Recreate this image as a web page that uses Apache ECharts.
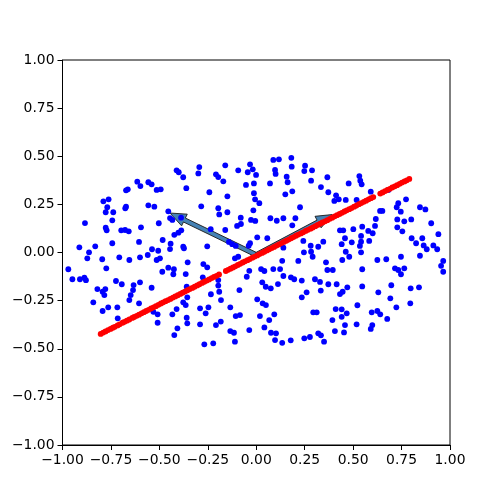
<!DOCTYPE html>
<html>
<head>
<meta charset="utf-8">
<script src="https://cdn.jsdelivr.net/npm/echarts@6/dist/echarts.min.js"></script>
<style>html,body{margin:0;padding:0;background:#fff}#c{width:500px;height:500px}</style>
</head>
<body>
<div id="c"></div>
<script>
// Original data points (blue), [x, y]
var bluePoints = [
[-0.614,0.368],[-0.598,0.345],[-0.557,0.365],[-0.540,0.354],[-0.514,0.325],[-0.672,0.323],[-0.663,0.328],[-0.789,0.266],[-0.762,0.276],[-0.769,0.235],
[-0.777,0.209],[-0.738,0.209],[-0.672,0.238],[-0.676,0.230],[-0.557,0.245],[-0.526,0.238],[-0.743,0.167],[-0.884,0.153],[-0.777,0.129],[-0.772,0.115],
[-0.697,0.115],[-0.677,0.117],[-0.658,0.110],[-0.595,0.131],[-0.503,0.152],[-0.743,0.048],[-0.605,0.055],[-0.913,0.027],[-0.831,0.032],[-0.538,0.017],
[-0.294,0.444],[-0.299,0.411],[-0.160,0.453],[-0.032,0.458],[-0.093,0.427],[-0.044,0.417],[-0.018,0.432],[-0.411,0.427],[-0.400,0.417],[-0.377,0.391],
[-0.208,0.406],[-0.196,0.392],[-0.170,0.370],[-0.053,0.351],[-0.012,0.359],[-0.493,0.328],[-0.361,0.334],[-0.242,0.313],[-0.149,0.292],[-0.012,0.308],
[-0.284,0.240],[-0.196,0.230],[-0.191,0.198],[-0.149,0.209],[-0.454,0.214],[-0.445,0.179],[-0.433,0.169],[-0.388,0.181],[-0.080,0.181],[-0.027,0.169],
[-0.099,0.138],[-0.079,0.148],[-0.160,0.117],[-0.235,0.121],[-0.387,0.115],[-0.402,0.103],[-0.423,0.092],[-0.483,0.065],[-0.442,0.046],[-0.377,0.030],
[-0.253,0.032],[-0.141,0.055],[-0.124,0.043],[-0.106,0.034],[-0.039,0.035],[-0.445,0.018],[-0.001,0.403],[-0.006,0.276],[0.016,0.256],[-0.015,0.219],
[-0.005,0.164],[0.088,0.481],[0.117,0.484],[0.181,0.492],[0.183,0.446],[0.097,0.429],[0.100,0.408],[0.157,0.394],[0.162,0.365],[0.071,0.359],
[0.252,0.451],[0.248,0.423],[0.288,0.427],[0.283,0.373],[0.367,0.391],[0.477,0.359],[0.334,0.340],[0.372,0.313],[0.412,0.297],[0.426,0.276],
[0.403,0.268],[0.462,0.273],[0.150,0.302],[0.186,0.318],[0.226,0.235],[0.073,0.178],[0.106,0.165],[0.140,0.178],[0.202,0.178],[0.186,0.141],
[0.432,0.115],[0.449,0.115],[0.458,0.074],[0.005,0.079],[0.057,0.074],[0.243,0.060],[0.281,0.035],[0.320,0.030],[0.346,0.056],[0.441,0.043],
[0.140,0.025],[-0.032,0.048],[0.532,0.397],[0.537,0.373],[0.544,0.354],[0.591,0.316],[0.518,0.273],[0.639,0.216],[0.651,0.216],[0.682,0.325],
[0.773,0.276],[0.733,0.256],[0.725,0.235],[0.746,0.212],[0.845,0.235],[0.873,0.224],[0.617,0.174],[0.613,0.138],[0.728,0.172],[0.764,0.162],
[0.800,0.172],[0.728,0.131],[0.754,0.110],[0.903,0.152],[0.547,0.134],[0.501,0.121],[0.578,0.112],[0.601,0.100],[0.940,0.095],[0.541,0.086],
[0.541,0.056],[0.535,0.034],[0.583,0.060],[0.493,0.053],[0.802,0.074],[0.825,0.048],[0.857,0.074],[0.864,0.037],[0.880,0.017],[0.914,0.037],
[0.934,0.017],[-0.863,0.001],[-0.872,-0.030],[-0.795,-0.035],[-0.707,-0.025],[-0.655,-0.039],[-0.600,-0.025],[-0.560,-0.013],[-0.514,-0.039],[-0.497,-0.030],
[-0.970,-0.087],[-0.774,-0.082],[-0.949,-0.139],[-0.910,-0.139],[-0.887,-0.131],[-0.879,-0.144],[-0.724,-0.148],[-0.694,-0.165],[-0.600,-0.155],[-0.633,-0.169],
[-0.636,-0.195],[-0.540,-0.183],[-0.820,-0.190],[-0.793,-0.204],[-0.779,-0.190],[-0.784,-0.221],[-0.648,-0.221],[-0.655,-0.247],[-0.841,-0.259],[-0.605,-0.264],
[-0.793,-0.304],[-0.764,-0.285],[-0.717,-0.285],[-0.715,-0.342],[-0.531,-0.308],[-0.509,-0.321],[-0.509,-0.365],[-0.506,0.009],[-0.373,0.022],[-0.354,-0.051],
[-0.273,-0.060],[-0.253,-0.077],[-0.110,-0.030],[-0.093,-0.022],[-0.036,-0.095],[-0.049,-0.126],[-0.485,-0.100],[-0.454,-0.079],[-0.425,-0.087],[-0.428,-0.113],
[-0.364,-0.112],[-0.276,-0.129],[-0.359,-0.178],[-0.196,-0.143],[-0.196,-0.172],[-0.191,-0.204],[-0.087,-0.195],[-0.234,-0.217],[-0.182,-0.247],[-0.356,-0.233],
[-0.377,-0.259],[-0.364,-0.273],[-0.411,-0.294],[-0.433,-0.321],[-0.290,-0.290],[-0.247,-0.285],[-0.261,-0.316],[-0.134,-0.285],[-0.106,-0.330],[-0.084,-0.325],
[-0.359,-0.339],[-0.356,-0.368],[-0.290,-0.373],[-0.407,-0.394],[-0.183,-0.359],[-0.208,-0.377],[-0.134,-0.408],[-0.115,-0.417],[-0.036,-0.403],[-0.423,-0.429],
[-0.268,-0.477],[-0.222,-0.472],[-0.110,-0.463],[0.246,0.001],[0.283,0.004],[0.291,-0.022],[0.462,0.004],[0.444,-0.039],[0.134,-0.043],[0.217,-0.044],
[0.360,-0.051],[0.025,-0.086],[0.042,-0.096],[0.088,-0.086],[0.123,-0.086],[0.140,-0.122],[0.179,-0.129],[0.196,-0.139],[0.235,-0.146],[0.303,-0.139],
[0.329,-0.153],[0.395,-0.091],[0.367,-0.091],[0.372,-0.165],[0.415,-0.165],[0.470,-0.181],[0.446,-0.204],[0.432,-0.216],[0.031,-0.155],[0.049,-0.178],
[0.075,-0.186],[0.112,-0.164],[0.260,-0.207],[0.235,-0.233],[0.333,-0.198],[0.005,-0.243],[0.033,-0.264],[0.050,-0.273],[0.294,-0.311],[0.312,-0.311],
[0.410,-0.294],[0.441,-0.295],[0.467,-0.316],[0.441,-0.334],[0.393,-0.351],[0.019,-0.330],[0.093,-0.321],[0.067,-0.351],[0.042,-0.389],[0.458,-0.377],
[0.406,-0.408],[0.453,-0.415],[0.076,-0.417],[0.102,-0.420],[0.097,-0.455],[0.134,-0.469],[0.178,-0.456],[0.248,-0.446],[0.277,-0.439],[0.320,-0.420],
[0.334,-0.430],[0.350,-0.463],[0.541,0.001],[0.480,-0.022],[0.625,-0.039],[0.671,-0.035],[0.747,-0.022],[0.845,-0.017],[0.965,-0.044],[0.954,-0.069],
[0.965,-0.100],[0.547,-0.087],[0.716,-0.082],[0.733,-0.091],[0.764,-0.082],[0.747,-0.113],[0.547,-0.176],[0.697,-0.170],[0.797,-0.186],[0.840,-0.181],
[0.630,-0.207],[0.692,-0.238],[0.723,-0.285],[0.795,-0.264],[0.522,-0.274],[0.596,-0.311],[0.625,-0.304],[0.640,-0.321],[0.676,-0.345],[0.518,-0.373],
[0.599,-0.377],[0.591,-0.397]
];

// Projected points (red), [x, y]
var redPoints = [
[-0.803,-0.423],[-0.790,-0.416],[-0.778,-0.410],[-0.765,-0.403],[-0.752,-0.397],[-0.740,-0.391],[-0.730,-0.386],[-0.716,-0.379],[-0.705,-0.373],[-0.690,-0.365],
[-0.680,-0.360],[-0.668,-0.354],[-0.655,-0.348],[-0.640,-0.340],[-0.630,-0.335],[-0.617,-0.329],[-0.605,-0.323],[-0.592,-0.316],[-0.580,-0.310],[-0.568,-0.304],
[-0.556,-0.298],[-0.543,-0.291],[-0.530,-0.285],[-0.518,-0.279],[-0.505,-0.272],[-0.492,-0.265],[-0.480,-0.259],[-0.468,-0.253],[-0.455,-0.247],[-0.443,-0.241],
[-0.430,-0.234],[-0.418,-0.228],[-0.405,-0.222],[-0.392,-0.215],[-0.380,-0.209],[-0.368,-0.203],[-0.355,-0.196],[-0.343,-0.190],[-0.330,-0.184],[-0.318,-0.178],
[-0.305,-0.171],[-0.293,-0.165],[-0.280,-0.158],[-0.268,-0.152],[-0.255,-0.146],[-0.243,-0.140],[-0.230,-0.133],[-0.218,-0.127],[-0.205,-0.121],[-0.192,-0.114],
[-0.157,-0.096],[-0.145,-0.090],[-0.133,-0.084],[-0.120,-0.078],[-0.108,-0.072],[-0.095,-0.065],[-0.083,-0.059],[-0.070,-0.052],[-0.058,-0.046],[-0.045,-0.040],
[-0.033,-0.034],[-0.020,-0.027],[-0.008,-0.021],[0.005,-0.015],[0.017,-0.008],[0.030,-0.002],[0.042,0.004],[0.055,0.011],[0.067,0.017],[0.080,0.023],
[0.092,0.029],[0.105,0.036],[0.117,0.042],[0.130,0.049],[0.142,0.055],[0.155,0.061],[0.167,0.067],[0.180,0.074],[0.192,0.080],[0.205,0.087],
[0.217,0.093],[0.230,0.099],[0.242,0.105],[0.255,0.112],[0.267,0.118],[0.280,0.124],[0.292,0.130],[0.305,0.137],[0.317,0.143],[0.330,0.150],
[0.342,0.156],[0.355,0.162],[0.367,0.168],[0.380,0.175],[0.392,0.181],[0.405,0.188],[0.417,0.194],[0.430,0.200],[0.442,0.206],[0.455,0.213],
[0.467,0.219],[0.480,0.225],[0.492,0.231],[0.505,0.238],[0.517,0.244],[0.530,0.251],[0.542,0.257],[0.555,0.263],[0.567,0.269],[0.580,0.276],
[0.592,0.282],[0.604,0.288],[0.640,0.306],[0.652,0.312],[0.665,0.319],[0.677,0.325],[0.690,0.331],[0.702,0.338],[0.715,0.344],[0.727,0.350],
[0.740,0.357],[0.752,0.363],[0.765,0.369],[0.777,0.375],[0.790,0.382]
];

// Arrows: tail x, tail y, tip x, tip y
var arrowTailX = [0.0, 0.0];
var arrowTailY = [-0.012, -0.012];
var arrowTipX = [-0.445, 0.392];
var arrowTipY = [0.205, 0.197];

var arrowData = arrowTailX.map(function (v, i) {
  return [arrowTailX[i], arrowTailY[i], arrowTipX[i], arrowTipY[i]];
});

function fmt(v) {
  return v.toFixed(2).replace('-', '\u2212');
}

var FONT = 'DejaVu Sans';
function axisCommon() {
  return {
    type: 'value', min: -1, max: 1, interval: 0.25,
    axisLine: { show: true, onZero: false, lineStyle: { color: '#000', width: 1 } },
    axisTick: { show: true, inside: false, length: 5, lineStyle: { color: '#000', width: 1 } },
    axisLabel: { formatter: fmt, color: '#000', fontSize: 13.9, fontFamily: FONT, margin: 8 },
    splitLine: { show: false }
  };
}

var chart = echarts.init(document.getElementById('c'), null, { renderer: 'canvas' });
chart.setOption({
  animation: false,
  backgroundColor: '#fff',
  grid: { left: 62.5, right: 50, top: 60, bottom: 55, show: true, borderColor: '#000', borderWidth: 1, backgroundColor: 'transparent' },
  xAxis: axisCommon(),
  yAxis: axisCommon(),
  series: [
    {
      type: 'custom',
      z: 1,
      data: arrowData,
      encode: { x: [0, 2], y: [1, 3] },
      renderItem: function (params, api) {
        var p0 = api.coord([api.value(0), api.value(1)]);
        var p1 = api.coord([api.value(2), api.value(3)]);
        var dx = p1[0] - p0[0], dy = p1[1] - p0[1];
        var L = Math.sqrt(dx * dx + dy * dy);
        var ux = dx / L, uy = dy / L;
        var nx = -uy, ny = ux;
        var w = 2.2, hw = 6.5, hl = 16;
        var bx = p1[0] - ux * hl, by = p1[1] - uy * hl;
        var pts = [
          [p0[0] + nx * w, p0[1] + ny * w],
          [bx + nx * w, by + ny * w],
          [bx + nx * hw, by + ny * hw],
          [p1[0], p1[1]],
          [bx - nx * hw, by - ny * hw],
          [bx - nx * w, by - ny * w],
          [p0[0] - nx * w, p0[1] - ny * w]
        ];
        return {
          type: 'polygon',
          shape: { points: pts },
          style: { fill: '#4682b4', stroke: '#1a1a1a', lineWidth: 0.9 }
        };
      }
    },
    {
      type: 'scatter',
      z: 2,
      data: bluePoints,
      symbol: 'circle',
      symbolSize: 5.8,
      itemStyle: { color: '#0000ff', opacity: 1 },
      emphasis: { disabled: true }
    },
    {
      type: 'scatter',
      z: 3,
      data: redPoints,
      symbol: 'circle',
      symbolSize: 5.8,
      itemStyle: { color: '#ff0000', opacity: 1 },
      emphasis: { disabled: true }
    }
  ]
});
</script>
</body>
</html>
